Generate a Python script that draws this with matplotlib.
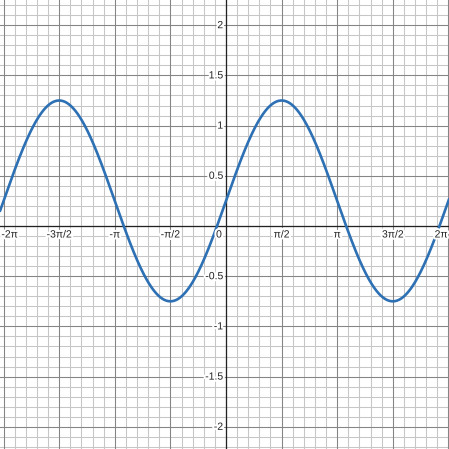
import numpy as np
import matplotlib
matplotlib.use("Agg")
import matplotlib.pyplot as plt
import matplotlib.patheffects as pe

plt.rcParams['font.family'] = ['Liberation Sans', 'DejaVu Sans']

# ---- data ----
amplitude = 1.0      # peak 1.25, trough -0.75
offset = 0.25
x_tick_multiples = [-4, -3, -2, -1, 0, 1, 2, 3, 4]          # in units of pi/2
x_tick_labels = ["-2π", "-3π/2", "-π", "-π/2", "0", "π/2", "π", "3π/2", "2π"]
y_tick_values = [-2, -1.5, -1, -0.5, 0.5, 1, 1.5, 2]
y_tick_labels = ["-2", "-1.5", "-1", "-0.5", "0.5", "1", "1.5", "2"]

xlim = (-6.384, 6.300)
ylim = (-2.221, 2.251)

fig = plt.figure(figsize=(4.49, 4.49), dpi=100)
ax = fig.add_axes([0, 0, 1, 1])
ax.set_xlim(*xlim)
ax.set_ylim(*ylim)
ax.axis("off")

# minor grid
minor_x = np.arange(-25, 26) * np.pi / 10
minor_y = np.arange(-30, 31) * 0.1
for v in minor_x:
    ax.axvline(v, color="#c6c6c6", lw=0.75, zorder=0)
for v in minor_y:
    ax.axhline(v, color="#c6c6c6", lw=0.75, zorder=0)
# major grid
for m in range(-5, 6):
    ax.axvline(m * np.pi / 2, color="#858585", lw=0.75, zorder=1)
for v in np.arange(-6, 7) * 0.5:
    ax.axhline(v, color="#858585", lw=0.75, zorder=1)
# axes
ax.axhline(0, color="#222222", lw=0.9, zorder=2)
ax.axvline(0, color="#222222", lw=0.9, zorder=2)

# curve
x = np.linspace(xlim[0], xlim[1], 2000)
y = amplitude * np.sin(x) + offset
ax.plot(x, y, color="#2d70b3", lw=1.9, zorder=5, solid_capstyle="round")

halo = [pe.withStroke(linewidth=3, foreground="white")]
fs = 7.5

# x labels
for m, lab in zip(x_tick_multiples, x_tick_labels):
    xv = m * np.pi / 2
    if lab == "0":
        ax.annotate(lab, (0, 0), xytext=(-3, -2.5), textcoords="offset points",
                    ha="right", va="top", fontsize=fs, color="#222222",
                    path_effects=halo, zorder=6)
        continue
    xdisp = ax.transData.transform((xv, 0))[0]
    ha = "center"
    dx = 0
    if xdisp < 8:
        ha = "left"; xv = xlim[0]; dx = 1
    elif xdisp > 441:
        ha = "right"; xv = xlim[1]; dx = -1
    ax.annotate(lab, (xv, 0), xytext=(dx, -2.5), textcoords="offset points",
                ha=ha, va="top", fontsize=fs, color="#222222",
                path_effects=halo, zorder=6)

# y labels
for v, lab in zip(y_tick_values, y_tick_labels):
    ax.annotate(lab, (0, v), xytext=(-2, 0), textcoords="offset points",
                ha="right", va="center", fontsize=fs, color="#222222",
                path_effects=halo, zorder=6)

fig.savefig("out.png", dpi=100)
